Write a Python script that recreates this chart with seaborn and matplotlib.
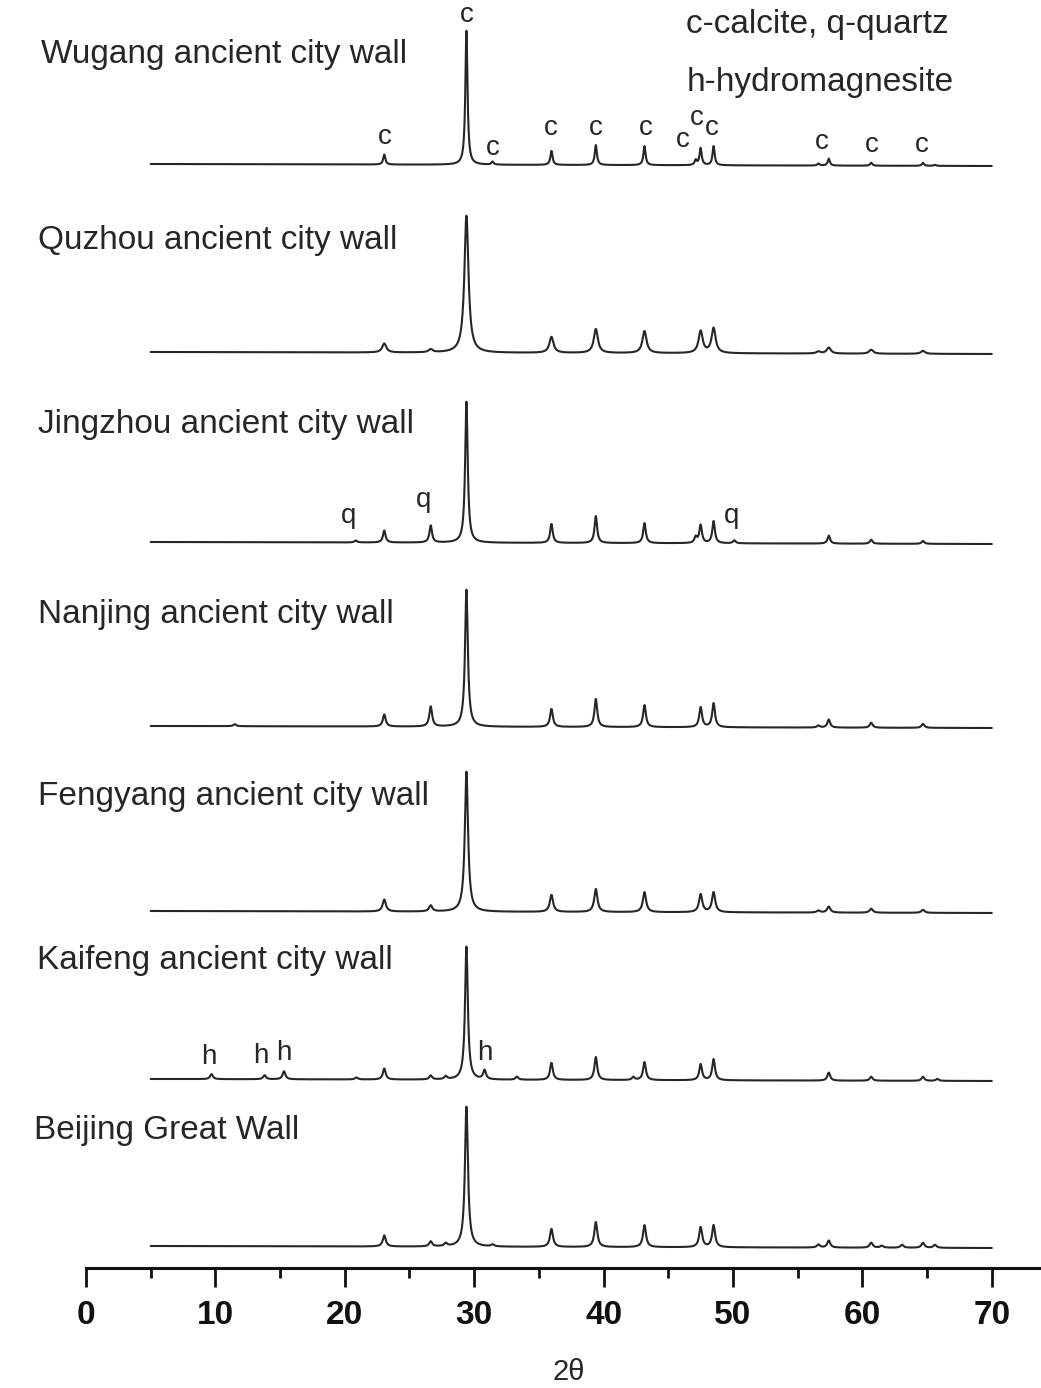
import numpy as np
import pandas as pd
import matplotlib
matplotlib.use('Agg')
import matplotlib.pyplot as plt
import seaborn as sns
from matplotlib.ticker import MultipleLocator

# sample names, top to bottom
samples = ['Wugang ancient city wall', 'Quzhou ancient city wall',
           'Jingzhou ancient city wall', 'Nanjing ancient city wall',
           'Fengyang ancient city wall', 'Kaifeng ancient city wall',
           'Beijing Great Wall']

# peaks: (2theta, height a.u.)
wugang = [(23.05, 10), (29.40, 134), (31.42, 3), (35.97, 14), (39.40, 20),
          (43.16, 19), (47.12, 5), (47.50, 17), (48.50, 19), (56.6, 2),
          (57.40, 7), (60.68, 3), (64.68, 3), (65.6, 1)]
quzhou = [(23.05, 9), (26.64, 3), (29.40, 137), (35.97, 16), (39.40, 24),
          (43.16, 22), (47.50, 22), (48.50, 25), (56.6, 2), (57.40, 6),
          (60.68, 4), (64.68, 3)]
jingzhou = [(20.85, 2), (23.05, 12), (26.64, 17), (29.40, 141), (35.97, 19),
            (39.40, 27), (43.16, 20), (47.12, 6), (47.50, 18), (48.50, 22),
            (50.10, 3), (57.40, 8), (60.68, 4), (64.68, 3)]
nanjing = [(11.5, 2), (23.05, 12), (26.64, 20), (29.40, 137), (35.97, 18),
           (39.40, 28), (43.16, 22), (47.50, 20), (48.50, 24), (56.6, 2),
           (57.40, 8), (60.68, 5), (64.68, 4)]
fengyang = [(23.05, 12), (26.64, 6), (29.40, 140), (35.97, 17), (39.40, 23),
            (43.16, 20), (47.50, 18), (48.50, 20), (56.6, 2), (57.40, 6),
            (60.68, 4), (64.68, 3)]
kaifeng = [(9.7, 5), (13.8, 4), (15.3, 8), (20.9, 2), (23.05, 11), (26.64, 4),
           (27.8, 3), (29.40, 133), (30.8, 9), (33.3, 3), (35.97, 17),
           (39.40, 23), (42.3, 3), (43.16, 18), (47.50, 16), (48.50, 21),
           (57.40, 8), (60.68, 4), (64.68, 4), (65.8, 2)]
beijing = [(23.05, 11), (26.64, 5), (27.8, 3), (29.40, 140), (31.42, 2),
           (35.97, 18), (39.40, 25), (43.16, 22), (47.50, 20), (48.50, 22),
           (56.6, 3), (57.40, 7), (60.68, 5), (61.5, 2), (63.06, 3),
           (64.68, 5), (65.6, 3)]
peaks = [wugang, quzhou, jingzhou, nanjing, fengyang, kaifeng, beijing]

# peak half widths (deg) per sample
widths = [0.10, 0.19, 0.12, 0.13, 0.15, 0.13, 0.14]

# vertical offsets of each pattern (baseline height)
offsets = [1102, 914, 724, 540, 355, 187, 20]

# phase labels: (text, 2theta, height)
wugang_marks = [('c', 29.4, 1253), ('c', 23.1, 1131), ('c', 31.4, 1120),
                ('c', 35.9, 1140), ('c', 39.4, 1140), ('c', 43.3, 1140),
                ('c', 46.1, 1128), ('c', 47.2, 1150), ('c', 48.4, 1140),
                ('c', 56.9, 1126), ('c', 60.7, 1123), ('c', 64.6, 1123)]
jingzhou_marks = [('q', 20.3, 752), ('q', 26.1, 768), ('q', 49.9, 752)]
kaifeng_marks = [('h', 9.5, 211), ('h', 13.5, 212), ('h', 15.3, 215),
                 ('h', 30.8, 215)]

x = np.arange(5, 70.01, 0.02)
rows = []
for name, pk, w, off in zip(samples, peaks, widths, offsets):
    y = np.full_like(x, off) + 2.0 * (70 - x) / 65
    for p, h in pk:
        y = y + h / (1 + ((x - p) / w) ** 2)
    rows.append(pd.DataFrame({'two_theta': x, 'intensity': y, 'sample': name}))
df = pd.concat(rows, ignore_index=True)

sns.set_style('white')
plt.rcParams['font.family'] = ['Liberation Sans', 'DejaVu Sans']

fig = plt.figure(figsize=(10.41, 13.88), dpi=100)
ax = fig.add_axes([86 / 1041, 1 - 1268 / 1388, 955 / 1041, 1268 / 1388])

for name in samples:
    sns.lineplot(data=df[df['sample'] == name], x='two_theta', y='intensity',
                 color='#262626', linewidth=1.5, estimator=None, ax=ax)

label_y = [1213, 1027, 844, 654, 472, 308, 138]
label_x = [-3.5, -3.7, -3.7, -3.7, -3.7, -3.8, -4.0]
for name, lx, ly in zip(samples, label_x, label_y):
    ax.text(lx, ly, name, fontsize=24, color='#262626', va='center',
            ha='left', clip_on=False)

for t, px, py in wugang_marks + jingzhou_marks + kaifeng_marks:
    ax.text(px, py, t, fontsize=20, color='#262626', ha='center', va='center')

ax.text(46.4, 1244, 'c-calcite, q-quartz', fontsize=24, color='#262626',
        va='center', ha='left')
ax.text(46.4, 1186, 'h-hydromagnesite', fontsize=24, color='#262626',
        va='center', ha='left')

ax.set_xlim(0, 955 / 12.94)
ax.set_ylim(0, 1268)
ax.xaxis.set_major_locator(MultipleLocator(10))
ax.xaxis.set_minor_locator(MultipleLocator(5))
ax.set_xticks(range(0, 71, 10))
ax.set_yticks([])
ax.tick_params(axis='x', which='major', direction='out', length=14, width=2,
               pad=9, labelsize=24, bottom=True, colors='#111111')
ax.tick_params(axis='x', which='minor', direction='out', length=7, width=2,
               bottom=True, colors='#111111')
for lab in ax.get_xticklabels():
    lab.set_fontweight('bold')
ax.set_xlabel('')
ax.set_ylabel('')
for s in ['left', 'top', 'right']:
    ax.spines[s].set_visible(False)
ax.spines['bottom'].set_linewidth(2.2)
ax.spines['bottom'].set_color('#111111')
ax.patch.set_alpha(0)

fig.text(569 / 1041, 1.5 / 1388, '2θ', fontsize=21, color='#262626',
         ha='center', va='bottom')

fig.savefig('out.png', dpi=100)
